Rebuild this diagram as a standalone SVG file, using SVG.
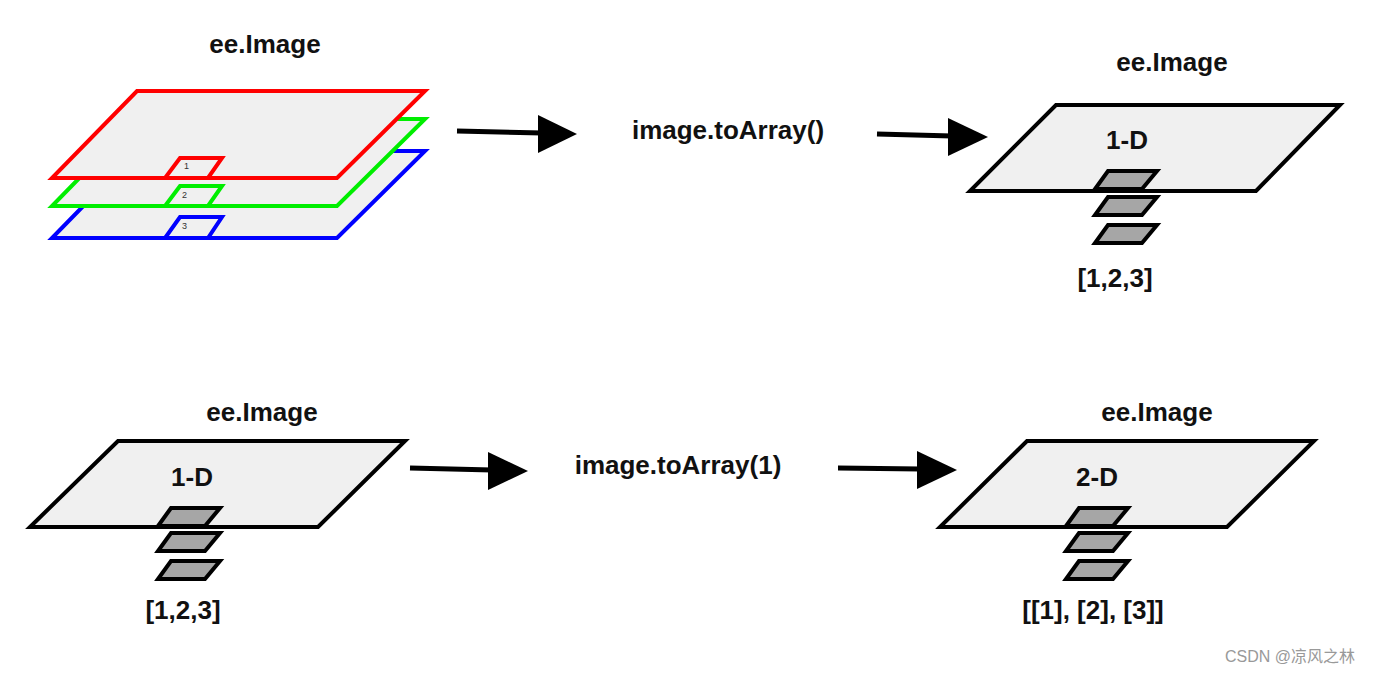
<svg xmlns="http://www.w3.org/2000/svg" width="1380" height="675" viewBox="0 0 1380 675">
<style>
.t{font-family:"Liberation Sans",Arial,sans-serif;font-weight:bold;font-size:26px;fill:#111;text-anchor:middle}
.pl{fill:#f0f0f0;stroke:#000;stroke-width:4;stroke-linejoin:miter}
.sq{fill:#a6a6a6;stroke:#000;stroke-width:4}
.ln{stroke:#000;stroke-width:5;fill:none}
.n{font-family:"Liberation Sans",Arial,sans-serif;font-size:9px;fill:#333}
</style>
<defs>
<g id="cell"><path class="sq" d="M13,0 H62 L47,18 H0 Z"/></g>
</defs>
<rect width="1380" height="675" fill="#fff"/>
<g id="stack">
<text class="t" x="265" y="53">ee.Image</text>
<path d="M137,151 H425 L337,238 H52 Z" fill="#f0f0f0" stroke="#00f" stroke-width="4"/>
<path d="M180,217 H222 L208,238 H165 Z" fill="#f0f0f0" stroke="#00f" stroke-width="4"/>
<text class="n" x="182" y="229">3</text>
<path d="M137,119 H425 L337,206 H52 Z" fill="#f0f0f0" stroke="#0e0" stroke-width="4"/>
<path d="M180,186 H222 L208,206 H165 Z" fill="#f0f0f0" stroke="#0e0" stroke-width="4"/>
<text class="n" x="182" y="198">2</text>
<path d="M137,91 H425 L337,178 H52 Z" fill="#f0f0f0" stroke="#f00" stroke-width="4"/>
<path d="M180,158 H222 L208,178 H165 Z" fill="#f0f0f0" stroke="#f00" stroke-width="4"/>
<text class="n" x="184" y="169">1</text>
</g>
<g id="img1d_top">
<text class="t" x="1172" y="71">ee.Image</text>
<path class="pl" d="M1056,105 H1340 L1256,191 H970 Z"/>
<text class="t" x="1127" y="149">1-D</text>
<use href="#cell" x="1095" y="171"/>
<use href="#cell" x="1095" y="197"/>
<use href="#cell" x="1095" y="225"/>
<text class="t" x="1115" y="287">[1,2,3]</text>
</g>
<g id="img1d_bottom">
<text class="t" x="262" y="421">ee.Image</text>
<path class="pl" d="M118,441 H405 L318,527 H30 Z"/>
<text class="t" x="192" y="486">1-D</text>
<use href="#cell" x="158" y="508"/>
<use href="#cell" x="158" y="533"/>
<use href="#cell" x="158" y="561"/>
<text class="t" x="183" y="619">[1,2,3]</text>
</g>
<g id="img2d">
<text class="t" x="1157" y="421">ee.Image</text>
<path class="pl" d="M1027,441 H1314 L1227,527 H940 Z"/>
<text class="t" x="1097" y="486">2-D</text>
<use href="#cell" x="1066" y="508"/>
<use href="#cell" x="1066" y="533"/>
<use href="#cell" x="1066" y="561"/>
<text class="t" x="1093" y="619">[[1], [2], [3]]</text>
</g>
<g id="labels">
<text class="t" x="728" y="139">image.toArray()</text>
<text class="t" x="678" y="474">image.toArray(1)</text>
</g>
<g id="connectors">
<path class="ln" d="M457,131 L542,133"/><path d="M538,115 L577,134 L538,153 Z"/>
<path class="ln" d="M877,134 L952,136"/><path d="M948,118 L988,137 L948,156 Z"/>
<path class="ln" d="M410,468 L492,470"/><path d="M488,452 L528,471 L488,490 Z"/>
<path class="ln" d="M838,468 L920,469"/><path d="M917,451 L957,470 L917,489 Z"/>
</g>
<text x="1290" y="662" font-family="'Liberation Sans','Noto Sans CJK SC',sans-serif" font-size="16" fill="#999" text-anchor="middle">CSDN @凉风之林</text>
</svg>
